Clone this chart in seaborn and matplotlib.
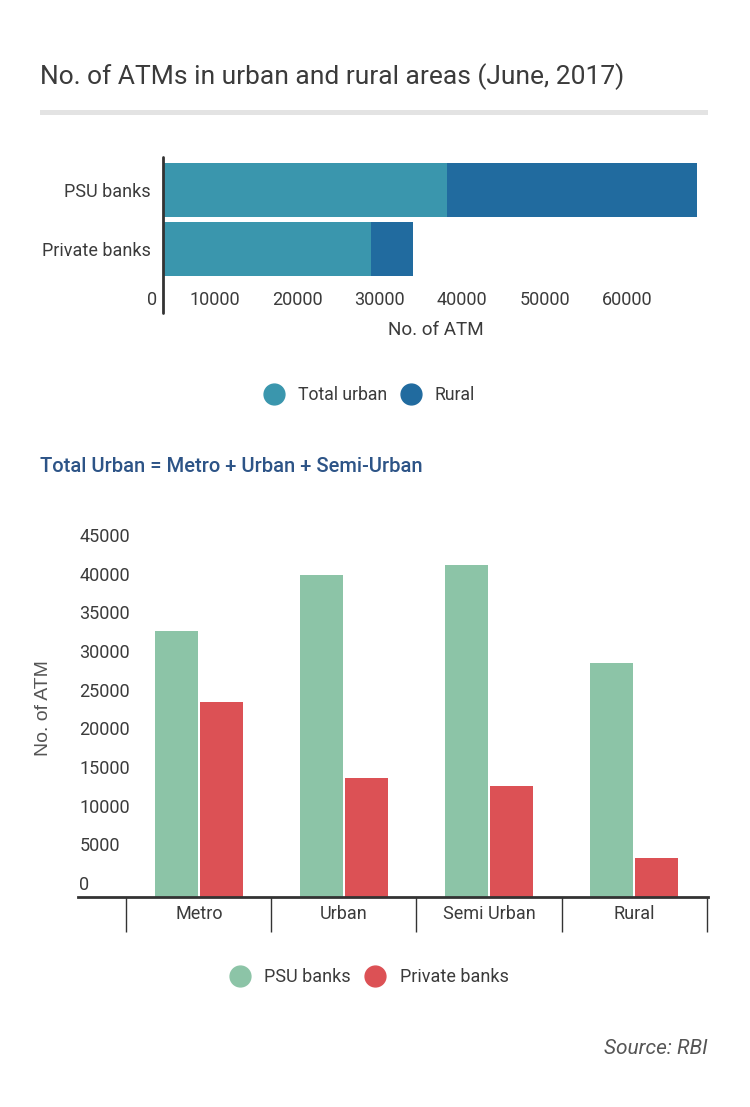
import matplotlib
matplotlib.use('Agg')
from matplotlib import pyplot as plt
from matplotlib.lines import Line2D
from matplotlib.patches import Rectangle
import matplotlib.transforms as mtransforms
import pandas as pd
import seaborn as sns

# Data
banks = ['PSU banks', 'Private banks']
total_urban = [34400, 25200]
rural_top = [30300, 5100]

areas = ['Metro', 'Urban', 'Semi Urban', 'Rural']
psu_atms = [34400, 41700, 42900, 30300]
private_atms = [25200, 15400, 14300, 5100]

x_ticks_top = [0, 10000, 20000, 30000, 40000, 50000, 60000]
y_ticks_bottom = [0, 5000, 10000, 15000, 20000, 25000, 30000, 35000, 40000, 45000]

# Colours
c_urban = '#3a96ad'
c_rural = '#216b9f'
c_psu = '#8cc4a7'
c_private = '#dc5155'
text_color = '#3b3b3b'
line_color = '#333333'

sns.set_theme(style='white')
plt.rcParams['font.family'] = ['Roboto', 'DejaVu Sans']

W, H = 750, 1107
fig = plt.figure(figsize=(W / 100, H / 100), dpi=100)


def px_axes(left, top, right, bottom):
    return fig.add_axes([left / W, 1 - bottom / H, (right - left) / W, (bottom - top) / H])


def shifted(trans, dx=0, dy=0):
    return trans + mtransforms.ScaledTranslation(dx / 72, dy / 72, fig.dpi_scale_trans)


# Title and grey rule
fig.text(40 / W, 1 - 77 / H, 'No. of ATMs in urban and rural areas (June, 2017)',
         fontsize=19, color=text_color, va='center', ha='left')
fig.add_artist(Rectangle((40 / W, 1 - 115 / H), 668 / W, 5 / H,
                         transform=fig.transFigure, color='#e3e3e3', lw=0))

# Top chart: stacked horizontal bars
top_df = pd.DataFrame({'bank': banks, 'urban': total_urban, 'rural': rural_top})
top_df['total'] = top_df['urban'] + top_df['rural']

ax1 = px_axes(163, 157, 708, 282)
sns.barplot(data=top_df, x='total', y='bank', orient='h', color=c_rural,
            saturation=1, width=0.9, linewidth=0, ax=ax1)
sns.barplot(data=top_df, x='urban', y='bank', orient='h', color=c_urban,
            saturation=1, width=0.9, linewidth=0, ax=ax1)
ax1.set_xlim(0, 66060)
ax1.set_ylim(1.55, -0.55)
for s in ax1.spines.values():
    s.set_visible(False)
ax1.axvline(0, ymin=-0.25, ymax=1, color=line_color, lw=2, clip_on=False)
ax1.set_ylabel('')
ax1.tick_params(axis='y', length=0, pad=9, labelsize=13, labelcolor=text_color)
ax1.set_xticks([])
ax1.set_xlabel('')
for t in x_ticks_top:
    ax1.text(t, -0.144, f'{t}', transform=shifted(ax1.get_xaxis_transform(), dx=-4),
             ha='right', va='center', fontsize=13, color=text_color)
ax1.text(0.5, -0.384, 'No. of ATM', transform=ax1.transAxes, ha='center', va='center',
         fontsize=13.6, color=text_color)

top_handles = [Line2D([], [], marker='o', ls='', markersize=15, color=c) for c in (c_urban, c_rural)]
fig.legend(top_handles, ['Total urban', 'Rural'], loc='center', bbox_to_anchor=(369 / W, 1 - 395 / H),
           ncol=2, frameon=False, fontsize=12.7, handletextpad=0.75, columnspacing=0.75,
           handlelength=1.2, labelcolor=text_color)

# Subtitle
fig.text(40 / W, 1 - 466 / H, 'Total Urban = Metro + Urban + Semi-Urban',
         fontsize=14.5, color='#2d5487', fontweight='medium', va='center', ha='left')

# Bottom chart: grouped vertical bars
bottom_df = pd.DataFrame({
    'area': areas * 2,
    'bank': [banks[0]] * len(areas) + [banks[1]] * len(areas),
    'atms': psu_atms + private_atms,
})

ax2 = px_axes(78, 549, 708, 897)
sns.barplot(data=bottom_df, x='area', y='atms', hue='bank', palette=[c_psu, c_private],
            saturation=1, width=0.62, gap=0.05, linewidth=0, legend=False, ax=ax2)
ax2.set_xlim(-0.834, 3.51)
ax2.set_ylim(0, 45000)
for name, s in ax2.spines.items():
    s.set_visible(name == 'bottom')
ax2.spines['bottom'].set_color(line_color)
ax2.spines['bottom'].set_linewidth(2)
ax2.vlines([i - 0.5 for i in range(len(areas) + 1)], -0.1, 0,
           transform=ax2.get_xaxis_transform(), color=line_color, lw=1, clip_on=False)
ax2.set_xlabel('')
ax2.set_ylabel('')
ax2.tick_params(axis='x', length=0, pad=6, labelsize=13, labelcolor=text_color)
ax2.set_yticks([])
for t in y_ticks_bottom:
    ax2.text(0, t, f'{t}', transform=shifted(ax2.get_yaxis_transform(), dx=1, dy=5),
             ha='left', va='baseline', fontsize=13, color=text_color)

fig.text(43 / W, 1 - 708 / H, 'No. of ATM', rotation=90, family='Liberation Sans',
         fontsize=14, color='#555555', ha='center', va='center')

bottom_handles = [Line2D([], [], marker='o', ls='', markersize=15, color=c) for c in (c_psu, c_private)]
fig.legend(bottom_handles, banks, loc='center', bbox_to_anchor=(369 / W, 1 - 977 / H),
           ncol=2, frameon=False, fontsize=13, handletextpad=0.75, columnspacing=0.75,
           handlelength=1.2, labelcolor=text_color)

fig.text(708 / W, 1 - 1049 / H, 'Source: RBI', ha='right', va='center', style='italic',
         fontsize=15, color='#555555')

fig.savefig('out.png', dpi=100)
